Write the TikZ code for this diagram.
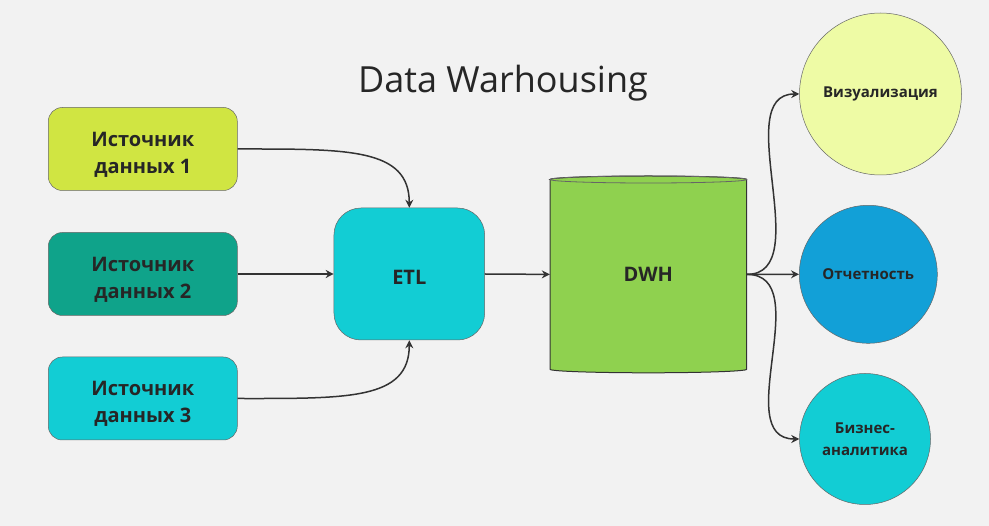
\documentclass[tikz,border=0pt]{standalone}
\usepackage{fontspec}
\setmainfont{Open Sans}
\usetikzlibrary{positioning, arrows.meta, calc}
\definecolor{dwbg}{HTML}{F2F2F2}
\definecolor{dwlime}{HTML}{D0E542}
\definecolor{dwteal}{HTML}{0FA38A}
\definecolor{dwcyan}{HTML}{12CDD4}
\definecolor{dwgreen}{HTML}{8FD14F}
\definecolor{dwpale}{HTML}{EEFBA5}
\definecolor{dwblue}{HTML}{12A0D7}
\definecolor{dwink}{HTML}{262626}
\definecolor{dwline}{HTML}{333333}
\newcommand{\dwlift}[1]{\rule{0pt}{#1}}
\tikzset{
    dwsource/.style={draw=black!60, line width=0.5pt, rounded corners=14pt, minimum width=189pt, minimum height=83pt, align=center, text=dwink, font=\bfseries\fontsize{20}{27}\selectfont},
    dwetl/.style={draw=black!60, line width=0.5pt, rounded corners=27pt, fill=dwcyan, minimum width=150.7pt, minimum height=132pt, align=center, text=dwink, font=\bfseries\fontsize{20}{27}\selectfont},
    dwstore/.style={minimum width=196.7pt, minimum height=189.8pt, inner sep=0pt, text=dwink, font=\bfseries\fontsize{20}{27}\selectfont},
    dwview/.style={circle, draw=black!60, line width=0.5pt, inner sep=0pt, align=center, text=dwink, font=\bfseries\fontsize{15}{22}\selectfont},
    dwarrow/.style={-{Stealth[length=8pt, width=8pt]}, line width=1.5pt, draw=dwline},
    dwtitle/.style={text=dwink, font=\fontsize{36}{42}\selectfont},
}
\begin{document}
\begin{tikzpicture}[x=1pt, y=-1pt]
    \fill[dwbg] (0,0) rectangle (989,526);
    \useasboundingbox (0,0) rectangle (989,526);
    \node[dwtitle] (title) at (503,83) {Data Warhousing};
    % sources
    \node[dwsource, fill=dwlime] (src1) at (142.8,149) {\dwlift{25pt}Источник\\данных 1};
    \node[dwsource, fill=dwteal] (src2) at (142.8,274) {\dwlift{25pt}Источник\\данных 2};
    \node[dwsource, fill=dwcyan] (src3) at (142.8,398.5) {\dwlift{25pt}Источник\\данных 3};
    \node[dwetl] (etl) at (409.3,274) {\dwlift{22pt}ETL};
    % storage cylinder
    \path[fill=dwgreen, draw=black!80, line width=1pt] (550,179.5) -- (550,369.3)
        arc[start angle=180, end angle=360, x radius=98.35pt, y radius=3.5pt]
        -- (746.7,179.5)
        arc[start angle=0, end angle=180, x radius=98.35pt, y radius=3.5pt] -- cycle;
    \draw[black!60, line width=0.8pt] (648.35,179.5) ellipse [x radius=98.35pt, y radius=3.5pt];
    \node[dwstore] (dwh) at (648.35,274.4) {DWH};
    % consumers
    \node[dwview, fill=dwpale, minimum size=162pt] (viz) at (880.5,94) {Визуализация};
    \node[dwview, fill=dwblue, minimum size=138pt] (rep) at (868.3,274.3) {Отчетность};
    \node[dwview, fill=dwcyan, minimum size=131pt] (bi) at (865,439) {Бизнес-\\аналитика};
    % flows
    \draw[dwarrow] (src1.east) .. controls +(110,0) and +(0,-60) .. (etl.north);
    \draw[dwarrow] (src2.east) -- (etl.west);
    \draw[dwarrow] (src3.east) .. controls +(110,0) and +(0,60) .. (etl.south);
    \draw[dwarrow] (etl.east) -- (dwh.west);
    \draw[dwarrow] (dwh.east) .. controls +(70,0) and +(-70,0) .. (viz.west);
    \draw[dwarrow] (dwh.east) -- (rep.west);
    \draw[dwarrow] (dwh.east) .. controls +(70,0) and +(-70,0) .. (bi.west);
\end{tikzpicture}
\end{document}
